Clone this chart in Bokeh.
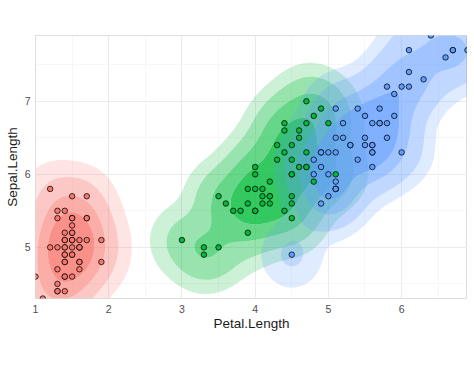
import numpy as np
from bokeh.plotting import figure
from bokeh.models import Range1d, FixedTicker
from bokeh.embed import file_html
from bokeh.resources import INLINE

species = ["setosa", "versicolor", "virginica"]
colors = ["#F8766D", "#00BA38", "#619CFF"]

setosa_petal = [1.4,1.4,1.3,1.5,1.4,1.7,1.4,1.5,1.4,1.5,1.5,1.6,1.4,1.1,1.2,1.5,1.3,1.4,1.7,1.5,
                1.7,1.5,1.0,1.7,1.9,1.6,1.6,1.5,1.4,1.6,1.6,1.5,1.5,1.4,1.5,1.2,1.3,1.4,1.3,1.5,
                1.3,1.3,1.3,1.6,1.9,1.4,1.6,1.4,1.5,1.4]
setosa_sepal = [5.1,4.9,4.7,4.6,5.0,5.4,4.6,5.0,4.4,4.9,5.4,4.8,4.8,4.3,5.8,5.7,5.4,5.1,5.7,5.1,
                5.4,5.1,4.6,5.1,4.8,5.0,5.0,5.2,5.2,4.7,4.8,5.4,5.2,5.5,4.9,5.0,5.5,4.9,4.4,5.1,
                5.0,4.5,4.4,5.0,5.1,4.8,5.1,4.6,5.3,5.0]
versicolor_petal = [4.7,4.5,4.9,4.0,4.6,4.5,4.7,3.3,4.6,3.9,3.5,4.2,4.0,4.7,3.6,4.4,4.5,4.1,4.5,3.9,
                    4.8,4.0,4.9,4.7,4.3,4.4,4.8,5.0,4.5,3.5,3.8,3.7,3.9,5.1,4.5,4.5,4.7,4.4,4.1,4.0,
                    4.4,4.6,4.0,3.3,4.2,4.2,4.2,4.3,3.0,4.1]
versicolor_sepal = [7.0,6.4,6.9,5.5,6.5,5.7,6.3,4.9,6.6,5.2,5.0,5.9,6.0,6.1,5.6,6.7,5.6,5.8,6.2,5.6,
                    5.9,6.1,6.3,6.1,6.4,6.6,6.8,6.7,6.0,5.7,5.5,5.5,5.8,6.0,5.4,6.0,6.7,6.3,5.6,5.5,
                    5.5,6.1,5.8,5.0,5.6,5.7,5.7,6.2,5.1,5.7]
virginica_petal = [6.0,5.1,5.9,5.6,5.8,6.6,4.5,6.3,5.8,6.1,5.1,5.3,5.5,5.0,5.1,5.3,5.5,6.7,6.9,5.0,
                   5.7,4.9,6.7,4.9,5.7,6.0,4.8,4.9,5.6,5.8,6.1,6.4,5.6,5.1,5.6,6.1,5.6,5.5,4.8,5.4,
                   5.6,5.1,5.1,5.9,5.7,5.2,5.0,5.2,5.4,5.1]
virginica_sepal = [6.3,5.8,7.1,6.3,6.5,7.6,4.9,7.3,6.7,7.2,6.5,6.4,6.8,5.7,5.8,6.4,6.5,7.7,7.7,6.0,
                   6.9,5.6,7.7,6.3,6.7,7.2,6.2,6.1,6.4,7.2,7.4,7.9,6.4,6.3,6.1,7.7,6.3,6.4,6.0,6.9,
                   6.7,6.9,5.8,6.8,6.7,6.7,6.3,6.5,6.2,5.9]

x_ticks = [1, 2, 3, 4, 5, 6]
y_ticks = [5, 6, 7]
x_minor = [1.5, 2.5, 3.5, 4.5, 5.5, 6.5]
y_minor = [4.5, 5.5, 6.5, 7.5]

# highest-density-region probabilities (outer -> inner) and band alphas
hdr_probs = [0.99, 0.95, 0.8, 0.5]
band_alpha = [0.2, 0.4, 0.6, 0.8]
bw_x, bw_y = 0.24, 0.26

petal = [setosa_petal, versicolor_petal, virginica_petal]
sepal = [setosa_sepal, versicolor_sepal, virginica_sepal]

all_x = np.concatenate([np.array(a) for a in petal])
all_y = np.concatenate([np.array(a) for a in sepal])
xmin, xmax = all_x.min(), all_x.max()
ymin, ymax = all_y.min(), all_y.max()

p = figure(width=467, height=358, output_backend="svg", toolbar_location=None,
           x_range=Range1d(xmin, xmax), y_range=Range1d(ymin, ymax),
           min_border_left=35, min_border_right=0, min_border_top=35, min_border_bottom=60)

gx = np.linspace(xmin, xmax, 200)
gy = np.linspace(ymin, ymax, 160)
GX, GY = np.meshgrid(gx, gy)

for xs, ys, col in zip(petal, sepal, colors):
    xs = np.array(xs); ys = np.array(ys)
    Z = np.zeros_like(GX)
    for xi, yi in zip(xs, ys):
        Z += np.exp(-0.5 * (((GX - xi) / bw_x) ** 2 + ((GY - yi) / bw_y) ** 2))
    Z /= Z.sum()
    zs = np.sort(Z.ravel())[::-1]
    cum = np.cumsum(zs)
    thr = [zs[np.searchsorted(cum, pr)] for pr in hdr_probs]
    bounds = thr + [Z.max() * 1.01]
    for i, a in enumerate(band_alpha):
        p.contour(GX, GY, Z, [bounds[i], bounds[i + 1]], fill_color=col, fill_alpha=a, line_color=None)

for xs, ys, col in zip(petal, sepal, colors):
    p.scatter(xs, ys, size=5.5, fill_color=col, line_color="black", line_alpha=0.75, line_width=1.0)

p.xaxis.axis_label = "Petal.Length"
p.yaxis.axis_label = "Sepal.Length"
for ax in (p.xaxis[0], p.yaxis[0]):
    ax.axis_line_color = None
    ax.major_tick_line_color = None
    ax.minor_tick_line_color = None
    ax.major_tick_out = 0
    ax.major_tick_in = 0
    ax.minor_tick_out = 0
    ax.minor_tick_in = 0
    ax.major_label_text_font = "Liberation Sans"
    ax.major_label_text_font_size = "10.5px"
    ax.major_label_text_color = "#4D4D4D"
    ax.axis_label_text_font = "Liberation Sans"
    ax.axis_label_text_font_size = "13.5px"
    ax.axis_label_text_font_style = "normal"
    ax.axis_label_text_color = "#1A1A1A"
p.xaxis.ticker = FixedTicker(ticks=x_ticks, minor_ticks=x_minor)
p.yaxis.ticker = FixedTicker(ticks=y_ticks, minor_ticks=y_minor)
p.xaxis.major_label_standoff = 6
p.xaxis.axis_label_standoff = 0
p.yaxis.major_label_standoff = 5
p.yaxis.axis_label_standoff = 2

p.xgrid.grid_line_color = "#EBEBEB"
p.ygrid.grid_line_color = "#EBEBEB"
p.xgrid.minor_grid_line_color = "#F2F2F2"
p.ygrid.minor_grid_line_color = "#F2F2F2"
p.xgrid.grid_line_width = 1.1
p.ygrid.grid_line_width = 1.1
p.xgrid.minor_grid_line_width = 0.6
p.ygrid.minor_grid_line_width = 0.6
p.xgrid.level = "underlay"
p.ygrid.level = "underlay"
p.outline_line_color = "#DDDDDD"
p.outline_line_width = 1
p.background_fill_color = "white"
p.border_fill_color = "white"

open("out.html", "w").write(file_html(p, INLINE))
